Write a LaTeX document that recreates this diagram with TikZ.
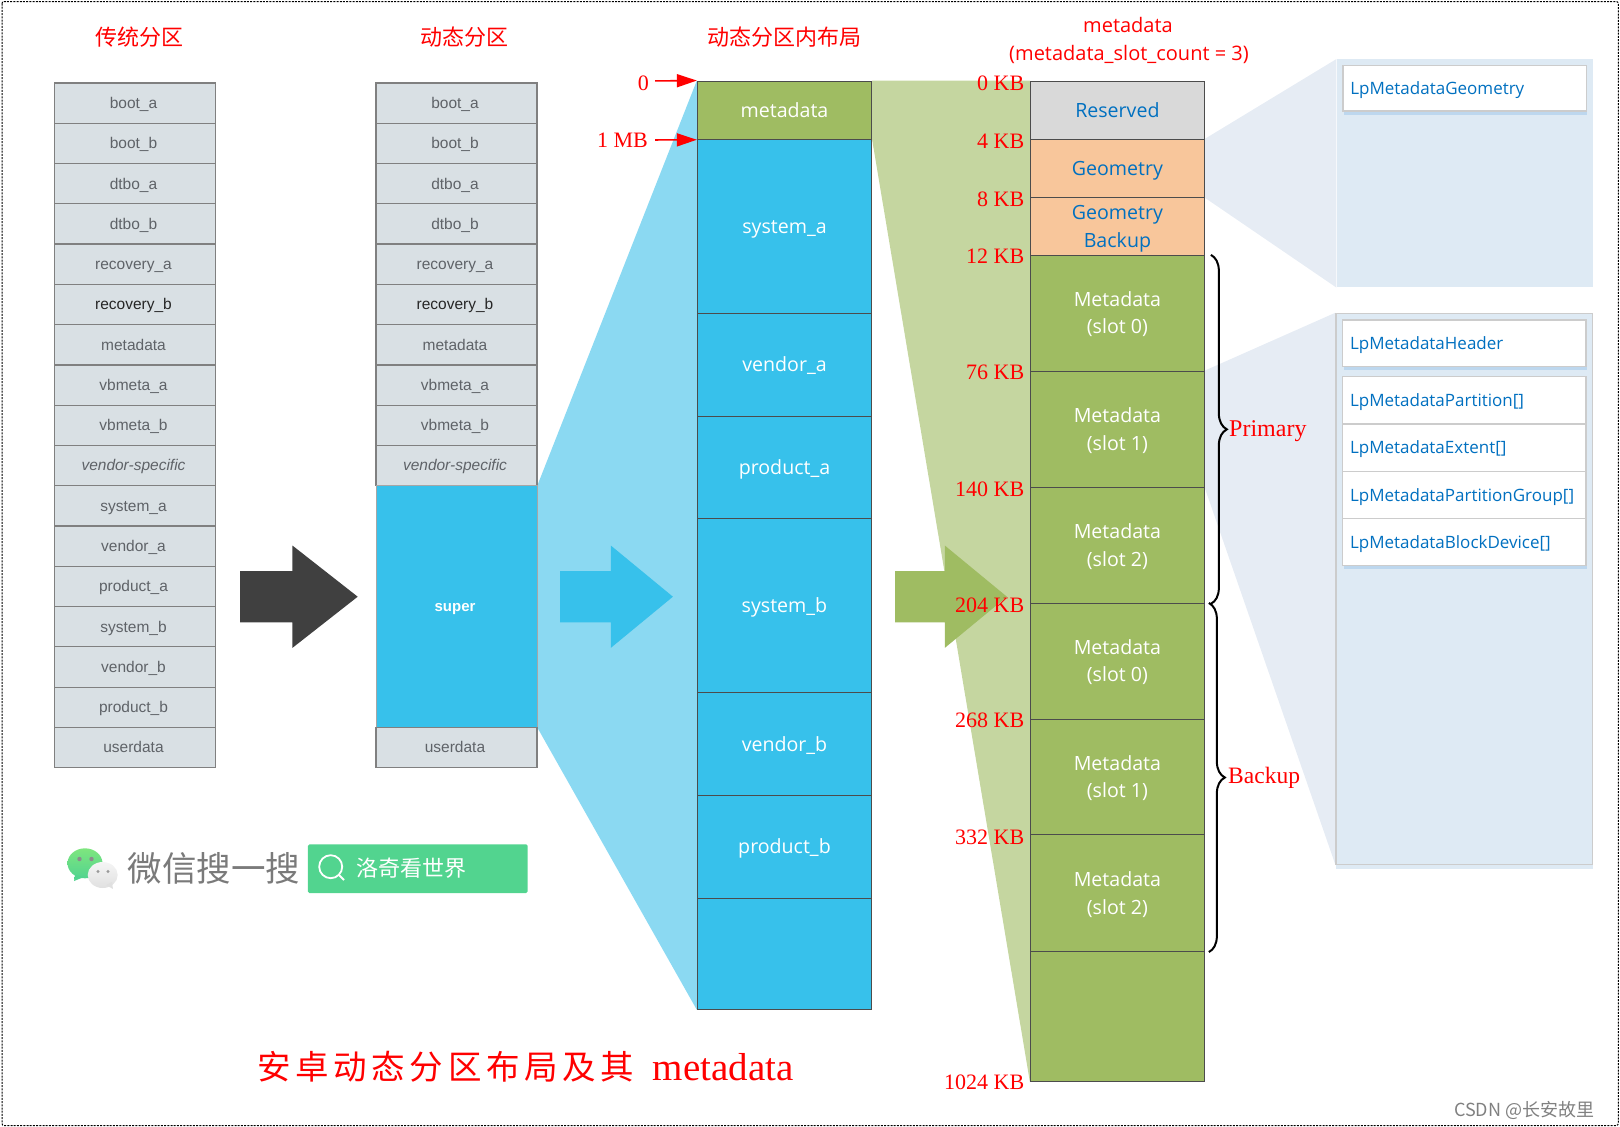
\documentclass[tikz,border=0pt]{standalone}
\usepackage{fontspec}
\setmainfont{Liberation Sans}
\newfontfamily\cjk{Noto Sans CJK SC}
\newfontfamily\cjktitle[LetterSpace=14]{Noto Sans CJK SC}
\newfontfamily\serifrm{Liberation Serif}
\newfontfamily\segoe{Open Sans}
\usetikzlibrary{backgrounds,shadows,shapes.arrows,shapes.geometric,decorations.pathreplacing,arrows.meta}

\definecolor{rowfill}{HTML}{D9E0E4}
\definecolor{rowtext}{HTML}{5F6368}
\definecolor{skyfill}{HTML}{37C1EB}
\definecolor{skylight}{HTML}{8BD9F2}
\definecolor{leaffill}{HTML}{9FBC62}
\definecolor{leaflight}{HTML}{C5D6A0}
\definecolor{peachfill}{HTML}{F8C69B}
\definecolor{linkblue}{HTML}{0070C0}
\definecolor{panelfill}{HTML}{DEEAF4}
\definecolor{panelfan}{HTML}{E6ECF4}
\definecolor{shadeblue}{HTML}{BDD7EE}
\definecolor{searchgreen}{HTML}{52D48F}

\tikzset{
  oldrow/.style={draw=black!50,line width=1.2pt,fill=rowfill,text=rowtext,inner sep=0,minimum width=161pt,minimum height=40.27pt,text height=10.6pt,text depth=0pt,execute at begin node={\hspace*{-3pt}},font=\fontsize{15.5}{18}\selectfont},
  slice/.style={draw=black!70,line width=0.9pt,fill=skyfill,text=white,inner sep=0,minimum width=174.4pt,text height=14.3pt,text depth=0pt,font=\segoe\fontsize{19.6}{27.5}\selectfont,align=center},
  metaslice/.style={slice,minimum width=174pt},
  twolines/.style={text height=41.5pt,text depth=0pt},
  hdr/.style={text=red,inner sep=0,font=\cjk\fontsize{22}{26}\selectfont},
  offset/.style={text=red,inner sep=0,anchor=east,font=\serifrm\fontsize{22}{24}\selectfont},
  lpbox/.style={draw=black!20,line width=1.2pt,fill=white,text=linkblue,inner xsep=7.3pt,inner ysep=0,minimum height=47.25pt,text width=228.7pt,text height=14pt,text depth=2pt,align=left,font=\segoe\fontsize{17}{20}\selectfont},
  lpshadow/.style={drop shadow={shadow xshift=1pt,shadow yshift=-3.5pt,fill=shadeblue,opacity=1}},
  bigarrow/.style={single arrow,anchor=tail,inner xsep=0,inner ysep=25.5pt,single arrow head extend=25.5pt,single arrow tip angle=79,single arrow head indent=0},
  redarrow/.style={draw=red,line width=1.6pt,-{Triangle[length=20pt,width=13pt]}},
  curly/.style={draw=black,line width=2pt,decorate,decoration={brace,amplitude=16pt}}
}

\begin{document}
\begin{tikzpicture}[x=1pt,y=-1pt]
\useasboundingbox (0,0) rectangle (1620,1127);

\draw[black,line width=1pt,dash pattern=on 2pt off 1.2pt,rounded corners=2pt] (2,1.5) rectangle (1618.3,1125.5);

\node[hdr] (titleold) at (139,37) {传统分区};
\node[hdr] (titledyn) at (464,37) {动态分区};
\node[hdr] (titlelayout) at (784.7,37) {动态分区内布局};
\node[text=red,inner sep=0,font=\segoe\fontsize{20}{22}\selectfont] (titlemeta) at (1128,25) {metadata};
\node[text=red,inner sep=0,font=\segoe\fontsize{20}{22}\selectfont] (titleslot) at (1129,54) {(metadata\_slot\_count = 3)};

\node[oldrow] (oldbootA) at (135,103.1) {boot\_a};
\node[oldrow] (oldbootB) at (135,143.4) {boot\_b};
\node[oldrow] (olddtboA) at (135,183.7) {dtbo\_a};
\node[oldrow] (olddtboB) at (135,224) {dtbo\_b};
\node[oldrow] (oldrecA) at (135,264.2) {recovery\_a};
\node[oldrow,text=black!85] (oldrecB) at (135,304.5) {recovery\_b};
\node[oldrow] (oldmeta) at (135,344.8) {metadata};
\node[oldrow] (oldvbA) at (135,385.1) {vbmeta\_a};
\node[oldrow] (oldvbB) at (135,425.3) {vbmeta\_b};
\node[oldrow,font=\itshape\fontsize{15.5}{18}\selectfont] (oldvendorspec) at (135,465.6) {vendor-specific};
\node[oldrow] (oldsysA) at (135,505.9) {system\_a};
\node[oldrow] (oldvenA) at (135,546.2) {vendor\_a};
\node[oldrow] (oldprodA) at (135,586.5) {product\_a};
\node[oldrow] (oldsysB) at (135,626.7) {system\_b};
\node[oldrow] (oldvenB) at (135,667) {vendor\_b};
\node[oldrow] (oldprodB) at (135,707.3) {product\_b};
\node[oldrow] (olduser) at (135,747.6) {userdata};

\node[oldrow] (dynbootA) at (456.5,103.1) {boot\_a};
\node[oldrow] (dynbootB) at (456.5,143.4) {boot\_b};
\node[oldrow] (dyndtboA) at (456.5,183.7) {dtbo\_a};
\node[oldrow] (dyndtboB) at (456.5,224) {dtbo\_b};
\node[oldrow] (dynrecA) at (456.5,264.2) {recovery\_a};
\node[oldrow,text=black!85] (dynrecB) at (456.5,304.5) {recovery\_b};
\node[oldrow] (dynmeta) at (456.5,344.8) {metadata};
\node[oldrow] (dynvbA) at (456.5,385.1) {vbmeta\_a};
\node[oldrow] (dynvbB) at (456.5,425.3) {vbmeta\_b};
\node[oldrow,font=\itshape\fontsize{15.5}{18}\selectfont] (dynvendorspec) at (456.5,465.6) {vendor-specific};
\node[oldrow,fill=skyfill,text=white,line width=1pt,draw=black!35,minimum height=241.7pt,font=\bfseries\fontsize{15}{18}\selectfont] (super) at (456.5,606.5) {super};
\node[oldrow] (dynuser) at (456.5,747.6) {userdata};

\node[slice,fill=leaffill,minimum height=58.3pt] (layoutmeta) at (784.5,110.15) {metadata};
\node[slice,minimum height=173.7pt] (sysA) at (784.5,226.15) {system\_a};
\node[slice,minimum height=103.4pt] (venA) at (784.5,364.7) {vendor\_a};
\node[slice,minimum height=102.3pt] (prodA) at (784.5,467.55) {product\_a};
\node[slice,minimum height=173.6pt] (sysB) at (784.5,605.5) {system\_b};
\node[slice,minimum height=103.3pt] (venB) at (784.5,743.95) {vendor\_b};
\node[slice,minimum height=102.4pt] (prodB) at (784.5,846.8) {product\_b};
\node[slice,minimum height=111.4pt] (layoutfree) at (784.5,953.7) {};

\node[metaslice,fill=black!15,text=linkblue,minimum height=58.3pt] (reserved) at (1117.4,110.15) {Reserved};
\node[metaslice,fill=peachfill,text=linkblue,minimum height=58pt] (geometry) at (1117.4,168.3) {Geometry};
\node[metaslice,twolines,fill=peachfill,text=linkblue,minimum height=58pt] (geobackup) at (1117.4,226.3) {Geometry\\Backup};
\node[metaslice,twolines,fill=leaffill,minimum height=115.7pt] (priA) at (1117.4,313.15) {Metadata\\(slot 0)};
\node[metaslice,twolines,fill=leaffill,minimum height=116.7pt] (priB) at (1117.4,429.35) {Metadata\\(slot 1)};
\node[metaslice,twolines,fill=leaffill,minimum height=115.7pt] (priC) at (1117.4,545.55) {Metadata\\(slot 2)};
\node[metaslice,twolines,fill=leaffill,minimum height=115.6pt] (bakA) at (1117.4,661.2) {Metadata\\(slot 0)};
\node[metaslice,twolines,fill=leaffill,minimum height=115.9pt] (bakB) at (1117.4,776.95) {Metadata\\(slot 1)};
\node[metaslice,twolines,fill=leaffill,minimum height=116.7pt] (bakC) at (1117.4,893.25) {Metadata\\(slot 2)};
\node[metaslice,fill=leaffill,minimum height=130.2pt] (metafree) at (1117.4,1016.7) {};

\node[fill=panelfill,inner sep=0,minimum width=256pt,minimum height=228pt] (panelgeo) at (1464.5,173.3) {};
\node[draw=black!20,line width=1.2pt,fill=panelfill,inner sep=0,minimum width=256.7pt,minimum height=551pt,drop shadow={shadow xshift=0pt,shadow yshift=-4.5pt,fill=panelfill,opacity=1}] (paneltable) at (1464.35,588.8) {};

\node[lpbox,lpshadow,minimum height=45.3pt] (lpgeo) at (1464.7,88.35) {LpMetadataGeometry};
\node[lpbox,lpshadow,minimum height=46.7pt] (lpheader) at (1464.35,343.35) {LpMetadataHeader};
\node[lpbox] (lppart) at (1464.35,400.35) {LpMetadataPartition[]};
\node[lpbox] (lpextent) at (1464.35,447.65) {LpMetadataExtent[]};
\node[lpbox] (lpgroup) at (1464.35,495) {LpMetadataPartitionGroup[]};
\node[lpbox,lpshadow] (lpblock) at (1464.35,542.2) {LpMetadataBlockDevice[]};

\begin{pgfonlayer}{background}
\fill[skylight] (super.north east) -- (layoutmeta.north west) -- (layoutfree.south west) -- (super.south east) -- cycle;
\fill[leaflight] (layoutmeta.north east) -- (reserved.north west) -- (metafree.south west) -- (layoutmeta.south east) -- cycle;
\fill[panelfan] (geometry.north east) -- (panelgeo.north west) -- (panelgeo.south west) -- (geometry.south east) -- cycle;
\fill[panelfan] (priB.north east) -- (paneltable.north west) -- (paneltable.south west) -- (priB.south east) -- cycle;
\end{pgfonlayer}

\node[bigarrow,fill=black!75,minimum height=117.5pt,single arrow tip angle=76.2] (arrowdark) at (240,596.7) {};
\node[bigarrow,fill=skyfill,minimum height=112.7pt] (arrowsky) at (560,596.7) {};
\node[bigarrow,fill=leaffill,minimum height=111.7pt] (arrowleaf) at (895,596.7) {};

\node[text=red,inner sep=0,anchor=east,font=\serifrm\fontsize{22}{24}\selectfont] (offzero) at (649,83) {0};
\node[text=red,inner sep=0,anchor=east,font=\serifrm\fontsize{22}{24}\selectfont] (offmb) at (648,140) {1 MB};
\draw[redarrow,shorten <=6pt] ([yshift=2pt]offzero.east) -- (layoutmeta.north west);
\draw[redarrow,shorten <=7pt] (offmb.east) -- (layoutmeta.south west);

\node[offset] (kbA) at (1024.5,83) {0 KB};
\node[offset] (kbB) at (1024.5,141.5) {4 KB};
\node[offset] (kbC) at (1024.5,199.5) {8 KB};
\node[offset] (kbD) at (1024.5,256.5) {12 KB};
\node[offset] (kbE) at (1024.5,372.5) {76 KB};
\node[offset] (kbF) at (1024.5,489.5) {140 KB};
\node[offset] (kbG) at (1024.5,605) {204 KB};
\node[offset] (kbH) at (1024.5,720.5) {268 KB};
\node[offset] (kbI) at (1024.5,837) {332 KB};
\node[offset] (kbJ) at (1024.5,1082) {1024 KB};

\draw[curly] ([xshift=6pt]priA.north east) -- ([xshift=6pt]priC.south east);
\draw[curly] ([xshift=4pt]bakA.north east) -- ([xshift=4pt]bakC.south east);
\node[text=red,inner sep=0,anchor=west,font=\serifrm\fontsize{24}{26}\selectfont] (primary) at (1229,431) {Primary};
\node[text=red,inner sep=0,anchor=west,font=\serifrm\fontsize{23.5}{26}\selectfont] (backup) at (1228,778) {Backup};

\shade[top color=green!45!white!90!black,bottom color=searchgreen] (85,863.3) ellipse (17.5 and 15);
\shade[top color=searchgreen,bottom color=searchgreen] (75,875) -- (74,881) -- (84,877) -- cycle;
\fill[black!45] (79.5,859) circle (2.2) (91.5,859) circle (2.2);
\shade[top color=black!4,bottom color=black!12] (102.7,875) ellipse (15 and 13);
\fill[black!12] (106,885) -- (113,889) -- (112,882) -- cycle;
\fill[black!40] (98,871.5) circle (1.6) (108,871.5) circle (1.6);
\node[text=black!52,inner sep=0,font=\cjk\fontsize{34.5}{36}\selectfont] (wxsearch) at (214,868) {微信搜一搜};
\node[fill=searchgreen,rounded corners=1.5pt,inner sep=0,minimum width=219.7pt,minimum height=48.7pt] (searchbar) at (417.8,868.7) {};
\draw[white,line width=1.8pt] (330.7,866.7) circle (11.5);
\draw[white,line width=1.8pt] (338.8,874.8) -- (344,880);
\node[text=white,inner sep=0,anchor=west,font=\cjk\fontsize{22}{26}\selectfont] (searchtext) at (356,868) {洛奇看世界};

\node[text=red,inner sep=0,anchor=west,font=\cjktitle\fontsize{33.5}{40}\selectfont] (bigtitle) at (257,1067) {安卓动态分区布局及其};
\node[text=red,inner sep=0,anchor=west,font=\serifrm\fontsize{39}{42}\selectfont] (bigmeta) at (652.7,1067) {metadata};

\node[text=black!50,inner sep=0,anchor=west,font=\cjk\fontsize{18}{22}\selectfont] (watermark) at (1454,1110) {CSDN @长安故里};

\end{tikzpicture}
\end{document}
